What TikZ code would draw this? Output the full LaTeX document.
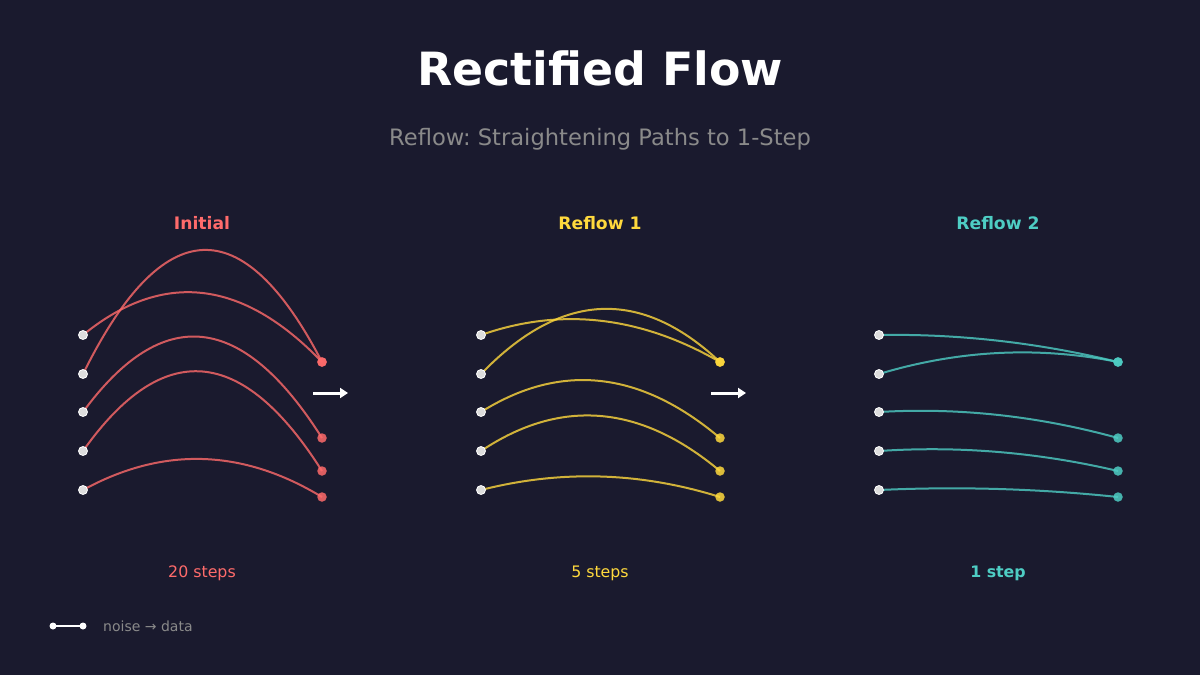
\documentclass[tikz,border=0pt]{standalone}
\usepackage{fontspec}
\setmainfont{DejaVu Sans}
\usetikzlibrary{calc,arrows.meta}
\frenchspacing
\definecolor{bg}{HTML}{1A1A2E}
\definecolor{cred}{HTML}{FF6B6B}
\definecolor{cyel}{HTML}{FFD93D}
\definecolor{cteal}{HTML}{4ECDC4}
\definecolor{subgrey}{HTML}{8A8A8A}
\definecolor{startdot}{HTML}{DDDDDD}
\newcommand\myflowpanel[4]{%
  \foreach \sy/\ey/\cy [count=\i] in {#4} {
    \pgfmathsetmacro\ex{#2+239}
    \pgfmathsetmacro\cx{#2+119.5}
    \coordinate (s#1\i) at (#2,\sy);
    \coordinate (e#1\i) at (\ex,\ey);
    \coordinate (c#1\i) at (\cx,\cy);
    \draw[flow=#3] (s#1\i) .. controls ($(s#1\i)!0.6667!(c#1\i)$) and ($(e#1\i)!0.6667!(c#1\i)$) .. (e#1\i);
  }%
}
\begin{document}
\begin{tikzpicture}[x=1pt,y=-1pt,
  startpt/.style={circle,fill=startdot,draw=white,line width=0.8pt,inner sep=0pt,minimum size=9pt},
  endpt/.style={circle,fill=#1,opacity=0.85,inner sep=0pt,minimum size=9.5pt},
  flow/.style={draw=#1,line width=2pt,opacity=0.8},
  paneltitle/.style={text=#1,font=\fontsize{17.2}{20}\selectfont\bfseries},
  steplabel/.style={text=#1,font=\fontsize{15.8}{18}\selectfont},
  stagearrow/.style={draw=white,line width=3pt,-{Triangle[length=8pt,width=10pt]}}
  ]
\useasboundingbox[fill=bg] (0,0) rectangle (1200,675);

\node[text=white,font=\fontsize{45.8}{54}\selectfont\bfseries] (title) at (600,68) {Rectified Flow};
\node[text=subgrey,font=\fontsize{22.6}{27}\selectfont] (subtitle) at (600,139) {Reflow: Straightening Paths to 1-Step};

\myflowpanel{1}{83}{cred}{335/362/237.5,374/362/132,412/438/249,451/471/282,490/497/424.5}
\myflowpanel{2}{481}{cyel}{335/362/293,374/362/250,412/438/337,451/471/371,490/497/459.5}
\myflowpanel{3}{879}{cteal}{335/362/333,374/362/338,412/438/405,451/471/443,490/497/484.5}

\foreach \p/\col in {1/cred,2/cyel,3/cteal}{
  \foreach \i in {1,...,5}{
    \node[startpt] (sd\p\i) at (s\p\i) {};
    \node[endpt=\col] (ed\p\i) at (e\p\i) {};
  }
}

\node[paneltitle=cred] (t1) at (202,223) {Initial};
\node[paneltitle=cyel] (t2) at (600,223) {Reflow 1};
\node[paneltitle=cteal] (t3) at (998,223) {Reflow 2};

\node[steplabel=cred] (n1) at (202,573) {20 steps};
\node[steplabel=cyel] (n2) at (600,573) {5 steps};
\node[steplabel=cteal,font=\fontsize{15.8}{18}\selectfont\bfseries] (n3) at (998,573) {1 step};

\coordinate (a1s) at (313,393);
\coordinate (a1e) at (348,393);
\coordinate (a2s) at (711,393);
\coordinate (a2e) at (746,393);
\draw[stagearrow] (a1s) -- (a1e);
\draw[stagearrow] (a2s) -- (a2e);

\coordinate (l1) at (53,626);
\coordinate (l2) at (83,626);
\draw[white,line width=2pt] (l1) -- (l2);
\node[circle,fill=white,inner sep=0pt,minimum size=7pt] (ld1) at (l1) {};
\node[circle,fill=white,inner sep=0pt,minimum size=7pt] (ld2) at (l2) {};
\node[anchor=west,text=subgrey,font=\fontsize{14}{17}\selectfont,inner sep=0pt] (legend) at (103,626) {noise → data};
\end{tikzpicture}
\end{document}
